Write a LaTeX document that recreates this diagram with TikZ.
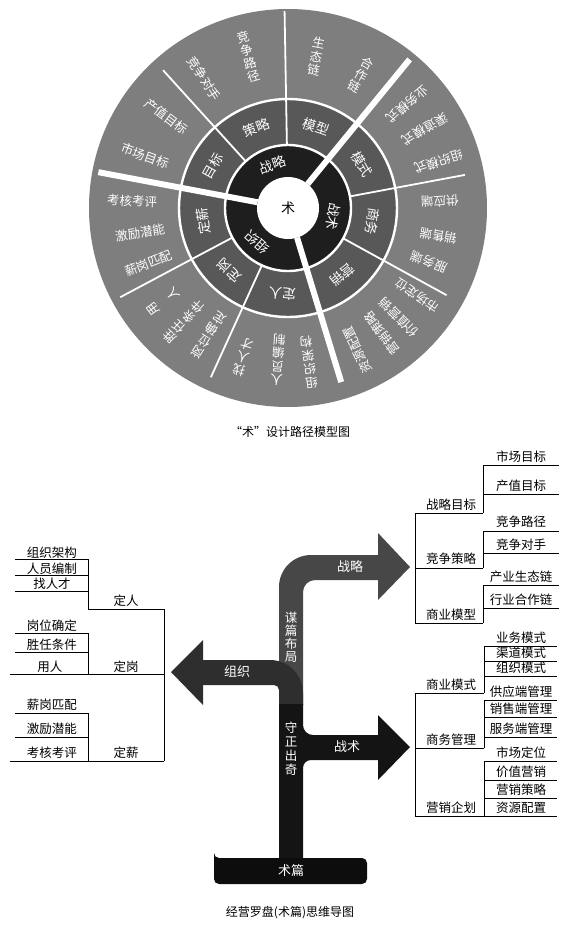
\documentclass[tikz,border=0pt]{standalone}
\usepackage{fontspec}
\setmainfont{Noto Sans CJK SC}
\definecolor{ringout}{HTML}{7E7E7E}
\definecolor{ringmid}{HTML}{585858}
\definecolor{ringin}{HTML}{1E1E1E}
\definecolor{armA}{HTML}{474747}
\definecolor{armB}{HTML}{2E2E2E}
\definecolor{armC}{HTML}{141414}
\begin{document}
\begin{tikzpicture}[x=1pt,y=1pt,
  wt/.style={text=white,font=\fontsize{12.5}{13.5}\selectfont,inner sep=0pt,align=center},
  mt/.style={text=white,font=\fontsize{13.5}{14}\selectfont,inner sep=0pt},
  leaf/.style={font=\fontsize{12.5}{13}\selectfont,inner sep=0pt},
  tline/.style={line width=0.7pt,black},
  armlbl/.style={text=white,font=\fontsize{13}{14}\selectfont,inner sep=0pt,align=center},
  capt/.style={font=\fontsize{12}{13}\selectfont,inner sep=0pt},
]
\useasboundingbox (0,0) rectangle (580,-938);
\fill[white] (0,0) rectangle (580,-938);

% ---------------- wheel ----------------
\begin{scope}[shift={(288,-208)}]
\fill[ringout] (0,0) circle (199);
\fill[ringmid] (0,0) circle (109);
\fill[ringin] (0,0) circle (63);
\fill[white] (0,0) circle (31);
\draw[white,line width=2.4] (0,0) circle (109) (0,0) circle (63);
\foreach \a/\r in {132.2/186, 91/197, 10.6/180, -28.8/181, -114.5/186, -152/190}
  \draw[white,line width=1.8] (\a:63) -- (\a:\r);
\foreach \a/\r in {50.7/192, 169.3/193, -73/182}
  \draw[white,line width=6] (\a:31) -- (\a:\r);
\node[font=\fontsize{14}{14}\selectfont,inner sep=0pt] (hub) at (0,0) {术};
\foreach \t/\a [count=\i] in {战略/110, 战术/-11.15, 组织/-131.85}
  \node[mt,rotate=\a-90] (c\i) at (\a:46) {\t};
\foreach \t/\a [count=\i] in {目标/150.75, 策略/111.6, 模型/70.85, 模式/30.65, 商务/-9.1, 营销/-50.9, 定人/-93.75, 定岗/-133.25, 定薪/-171.35}
  \node[mt,rotate=\a-90] (m\i) at (\a:86) {\t};
\foreach \t/\a/\r [count=\i] in {市场目标/160/152, 产值目标/143/152, 竞争对手/123/154, 业务模式/41/158, 渠道模式/30/158, 组织模式/17/158, 供应端/2.6/152, 销售端/-10.6/153, 服务端/-21/151, 市场定位/-34.2/156, 价值营销/-44.7/156, 营销策略/-53.2/157, 资源配置/-64/158, 薪岗匹配/-158.4/150, 激励潜能/-170.4/150, 考核考评/177.5/156}
  \node[wt,rotate=\a-180] (oh\i) at (\a:\r) {\t};
\foreach \t/\a/\r [count=\i] in {竞\\争\\路\\径/104.8/156, 生\\态\\链/79.5/154, 合\\作\\链/61.2/152, 组\\织\\架\\构/-82.3/156, 人\\员\\编\\制/-93.8/152, 找\\人\\才/-106.8/156, 岗\\位\\确\\定/-122/150, 胜\\任\\条\\件/-132.6/154, 用\\[12pt]人/-143/156}
  \node[wt,rotate=\a-90] (ov\i) at (\a:\r) {\t};
\end{scope}
\node[capt] (cap1) at (290,-432) {“术”设计路径模型图};

% ---------------- arrows ----------------
\fill[armA] (279,-705) -- (279,-587) arc[start angle=180,end angle=90,radius=32]
  -- (378,-555) -- (378,-533) -- (410,-567) -- (378,-600) -- (378,-580) -- (315,-580)
  arc[start angle=90,end angle=180,radius=12] -- (303,-705) -- cycle;
\fill[armB] (279,-705) -- (279,-690) arc[start angle=0,end angle=90,radius=5]
  -- (203,-685) -- (203,-705) -- (171,-672) -- (203,-640) -- (203,-660) -- (270,-660)
  arc[start angle=90,end angle=0,radius=33] -- (303,-705) -- cycle;
\fill[armC] (279,-860) -- (279,-704) -- (303,-704) -- (303,-725)
  arc[start angle=180,end angle=270,radius=10] -- (378,-735) -- (378,-715) -- (410,-747)
  -- (378,-780) -- (378,-760) -- (311,-760) arc[start angle=90,end angle=180,radius=8]
  -- (303,-860) -- cycle;
\fill[black!95] (214,-858) [rounded corners=5pt] -- (214,-884) -- (367,-884) -- (367,-858) -- (214,-858) -- cycle;
\node[armlbl] (base) at (291,-871) {术篇};
\node[armlbl] (aStr) at (350,-567) {战略};
\node[armlbl] (aOrg) at (237,-672) {组织};
\node[armlbl] (aTac) at (347,-747) {战术};
\node[armlbl,font=\fontsize{12.5}{13}\selectfont] (v1) at (291,-637) {谋\\篇\\布\\局};
\node[armlbl,font=\fontsize{12.5}{14}\selectfont] (v2) at (291,-749) {守\\正\\出\\奇};

% ---------------- left tree ----------------
\draw[tline] (15,-559) -- (88,-559) (15,-575) -- (88,-575) (15,-591) -- (88,-591);
\draw[tline] (88,-559) -- (88,-609) -- (164,-609);
\draw[tline] (15,-633) -- (88,-633) (15,-652) -- (88,-652) (10,-674) -- (164,-674);
\draw[tline] (88,-633) -- (88,-674);
\draw[tline] (15,-713) -- (88,-713) (15,-737) -- (88,-737) (10,-761) -- (164,-761);
\draw[tline] (88,-713) -- (88,-761);
\draw[tline] (164,-609) -- (164,-761);
\foreach \t/\x/\y [count=\i] in {组织架构/52/553, 人员编制/52/569, 找人才/52/584, 定人/126/601, 岗位确定/52/626, 胜任条件/52/645, 用人/50/667, 定岗/126/667, 薪岗匹配/52/705, 激励潜能/52/729, 考核考评/52/753, 定薪/126/753}
  \node[leaf] (L\i) at (\x,-\y) {\t};

% ---------------- right trees ----------------
\draw[tline] (483,-465) -- (559,-465) (483,-494) -- (559,-494) (483,-465) -- (483,-513) (415,-513) -- (483,-513);
\draw[tline] (483,-531) -- (559,-531) (483,-553) -- (559,-553) (483,-531) -- (483,-568) (415,-568) -- (483,-568);
\draw[tline] (483,-585) -- (559,-585) (483,-608) -- (559,-608) (483,-585) -- (483,-623) (415,-623) -- (483,-623);
\draw[tline] (415,-513) -- (415,-623);
\draw[tline] (484,-646) -- (557,-646) (484,-661) -- (557,-661) (484,-676) -- (557,-676) (484,-646) -- (484,-693) (415,-693) -- (484,-693);
\draw[tline] (484,-700) -- (557,-700) (484,-717) -- (557,-717) (484,-737) -- (557,-737) (484,-700) -- (484,-748) (415,-748) -- (484,-748);
\draw[tline] (484,-761) -- (557,-761) (484,-780) -- (557,-780) (484,-798) -- (557,-798) (484,-816) -- (557,-816) (484,-761) -- (484,-816) (415,-816) -- (484,-816);
\draw[tline] (415,-693) -- (415,-816);
\foreach \t/\x/\y [count=\i] in {市场目标/521/457, 产值目标/521/486, 竞争路径/521/522, 竞争对手/521/545, 产业生态链/521/577, 行业合作链/521/600, 战略目标/451/505, 竞争策略/451/559, 商业模型/451/615, 业务模式/521/638, 渠道模式/521/653, 组织模式/521/668, 商业模式/451/685, 供应端管理/521/692, 销售端管理/521/709, 服务端管理/521/729, 商务管理/451/740, 市场定位/521/753, 价值营销/521/772, 营销策略/521/790, 资源配置/521/808, 营销企划/451/808}
  \node[leaf] (R\i) at (\x,-\y) {\t};

\node[capt] (cap2) at (290,-913) {经营罗盘(术篇)思维导图};
\end{tikzpicture}
\end{document}
